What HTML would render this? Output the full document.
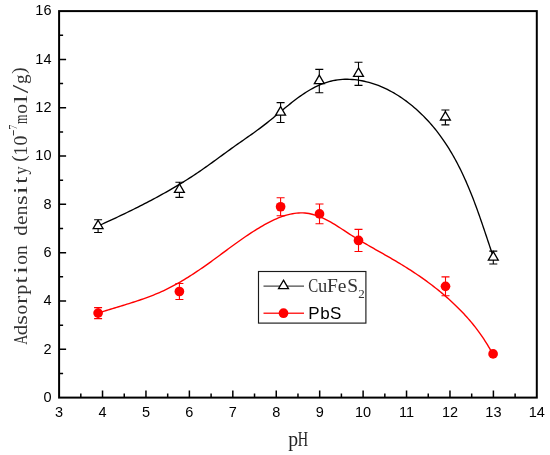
<!DOCTYPE html>
<html><head><meta charset="utf-8"><style>
html,body{margin:0;padding:0;background:#fff;}
svg{display:block;}
</style></head><body>
<svg width="550" height="455" viewBox="0 0 550 455">
<rect width="550" height="455" fill="#fff"/>
<path d="M80.81,397.6V393.6 M102.53,397.6V390.6 M124.25,397.6V393.6 M145.96,397.6V390.6 M167.68,397.6V393.6 M189.39,397.6V390.6 M211.1,397.6V393.6 M232.82,397.6V390.6 M254.53,397.6V393.6 M276.25,397.6V390.6 M297.97,397.6V393.6 M319.68,397.6V390.6 M341.4,397.6V393.6 M363.11,397.6V390.6 M384.83,397.6V393.6 M406.54,397.6V390.6 M428.25,397.6V393.6 M449.97,397.6V390.6 M471.69,397.6V393.6 M493.4,397.6V390.6 M515.12,397.6V393.6 M59.1,373.44H63.1 M59.1,349.29H66.1 M59.1,325.13H63.1 M59.1,300.98H66.1 M59.1,276.82H63.1 M59.1,252.66H66.1 M59.1,228.51H63.1 M59.1,204.35H66.1 M59.1,180.2H63.1 M59.1,156.04H66.1 M59.1,131.88H63.1 M59.1,107.73H66.1 M59.1,83.57H63.1 M59.1,59.42H66.1 M59.1,35.26H63.1" stroke="#000" stroke-width="1.5" fill="none"/>
<rect x="59.1" y="11.1" width="477.7" height="386.5" fill="none" stroke="#000" stroke-width="2"/>
<g font-family="Liberation Sans, Arial, sans-serif" font-size="14.5" fill="#000"><text x="59.1" y="417" text-anchor="middle">3</text><text x="102.53" y="417" text-anchor="middle">4</text><text x="145.96" y="417" text-anchor="middle">5</text><text x="189.39" y="417" text-anchor="middle">6</text><text x="232.82" y="417" text-anchor="middle">7</text><text x="276.25" y="417" text-anchor="middle">8</text><text x="319.68" y="417" text-anchor="middle">9</text><text x="363.11" y="417" text-anchor="middle">10</text><text x="406.54" y="417" text-anchor="middle">11</text><text x="449.97" y="417" text-anchor="middle">12</text><text x="493.4" y="417" text-anchor="middle">13</text><text x="536.83" y="417" text-anchor="middle">14</text><text x="51.5" y="401.9" text-anchor="end">0</text><text x="51.5" y="353.59" text-anchor="end">2</text><text x="51.5" y="305.28" text-anchor="end">4</text><text x="51.5" y="256.96" text-anchor="end">6</text><text x="51.5" y="208.65" text-anchor="end">8</text><text x="51.5" y="160.34" text-anchor="end">10</text><text x="51.5" y="112.03" text-anchor="end">12</text><text x="51.5" y="63.72" text-anchor="end">14</text><text x="51.5" y="15.4" text-anchor="end">16</text></g>
<path d="M98.04,226.05 L100.27,225.03 L102.51,224.01 L104.75,222.98 L106.98,221.95 L109.21,220.92 L111.44,219.88 L113.67,218.84 L115.90,217.80 L118.12,216.75 L120.35,215.69 L122.56,214.63 L124.78,213.57 L127.00,212.50 L129.21,211.42 L131.42,210.34 L133.62,209.25 L135.82,208.16 L138.02,207.06 L140.22,205.95 L142.41,204.84 L144.60,203.71 L146.78,202.59 L148.96,201.45 L151.13,200.31 L153.30,199.15 L155.47,197.99 L157.63,196.83 L159.79,195.65 L161.94,194.46 L164.08,193.27 L166.22,192.06 L168.36,190.85 L170.49,189.63 L172.61,188.39 L174.73,187.15 L176.84,185.90 L178.95,184.63 L181.05,183.36 L183.14,182.07 L185.23,180.77 L187.31,179.47 L189.38,178.15 L191.45,176.81 L193.50,175.47 L195.56,174.11 L197.60,172.74 L199.64,171.36 L201.66,169.97 L203.69,168.56 L205.70,167.15 L207.71,165.72 L209.71,164.29 L211.71,162.85 L213.71,161.41 L215.70,159.96 L217.69,158.51 L219.68,157.06 L221.66,155.60 L223.65,154.15 L225.63,152.71 L227.62,151.26 L229.61,149.83 L231.59,148.40 L233.59,146.97 L235.58,145.56 L237.57,144.15 L239.57,142.75 L241.57,141.35 L243.57,139.96 L245.57,138.56 L247.56,137.16 L249.56,135.76 L251.55,134.35 L253.53,132.93 L255.52,131.50 L257.50,130.06 L259.47,128.61 L261.44,127.14 L263.40,125.66 L265.35,124.15 L267.29,122.63 L269.23,121.08 L271.16,119.52 L273.08,117.94 L275.00,116.35 L276.92,114.75 L278.83,113.15 L280.75,111.54 L282.67,109.94 L284.59,108.34 L286.52,106.75 L288.45,105.17 L290.39,103.61 L292.34,102.06 L294.31,100.54 L296.28,99.04 L298.27,97.57 L300.28,96.13 L302.30,94.73 L304.34,93.36 L306.41,92.04 L308.49,90.76 L310.60,89.53 L312.73,88.35 L314.89,87.22 L317.07,86.16 L319.28,85.16 L321.51,84.22 L323.77,83.35 L326.04,82.56 L328.34,81.85 L330.66,81.22 L332.99,80.68 L335.35,80.22 L337.72,79.86 L340.11,79.58 L342.51,79.39 L344.92,79.29 L347.33,79.27 L349.75,79.32 L352.18,79.46 L354.60,79.67 L357.02,79.95 L359.43,80.31 L361.84,80.74 L364.23,81.23 L366.62,81.79 L368.99,82.41 L371.34,83.09 L373.67,83.83 L375.99,84.63 L378.29,85.49 L380.57,86.40 L382.83,87.37 L385.07,88.39 L387.29,89.46 L389.49,90.58 L391.67,91.75 L393.83,92.96 L395.97,94.22 L398.08,95.53 L400.17,96.88 L402.24,98.27 L404.28,99.70 L406.30,101.17 L408.29,102.67 L410.26,104.21 L412.21,105.79 L414.12,107.40 L416.01,109.04 L417.87,110.71 L419.70,112.41 L421.51,114.14 L423.29,115.89 L425.03,117.67 L426.75,119.47 L428.44,121.29 L430.09,123.13 L431.71,125.00 L433.31,126.88 L434.87,128.78 L436.41,130.69 L437.91,132.63 L439.39,134.58 L440.84,136.55 L442.26,138.54 L443.66,140.54 L445.03,142.56 L446.37,144.59 L447.69,146.64 L448.99,148.70 L450.26,150.78 L451.51,152.87 L452.73,154.98 L453.94,157.10 L455.12,159.23 L456.28,161.37 L457.42,163.53 L458.54,165.69 L459.64,167.87 L460.73,170.06 L461.79,172.26 L462.84,174.47 L463.87,176.69 L464.88,178.92 L465.88,181.15 L466.86,183.40 L467.83,185.65 L468.78,187.92 L469.72,190.19 L470.64,192.46 L471.56,194.75 L472.46,197.04 L473.35,199.33 L474.23,201.63 L475.09,203.94 L475.95,206.25 L476.80,208.56 L477.64,210.88 L478.47,213.20 L479.30,215.53 L480.12,217.86 L480.93,220.19 L481.73,222.52 L482.53,224.86 L483.33,227.19 L484.12,229.53 L484.91,231.87 L485.69,234.21 L486.48,236.54 L487.26,238.88 L488.03,241.22 L488.81,243.55 L489.59,245.88 L490.37,248.21 L491.15,250.54 L491.92,252.87 L492.71,255.19 L493.49,257.51" stroke="#000" stroke-width="1.35" fill="none" stroke-linecap="round"/>
<path d="M98.14,313.18 L100.17,312.51 L102.21,311.85 L104.26,311.19 L106.31,310.54 L108.36,309.90 L110.42,309.27 L112.48,308.63 L114.55,308.00 L116.61,307.37 L118.68,306.74 L120.75,306.11 L122.82,305.48 L124.89,304.84 L126.95,304.20 L129.02,303.56 L131.08,302.91 L133.14,302.25 L135.20,301.58 L137.26,300.91 L139.31,300.22 L141.35,299.52 L143.39,298.81 L145.42,298.09 L147.45,297.35 L149.47,296.59 L151.49,295.82 L153.49,295.03 L155.49,294.22 L157.48,293.39 L159.45,292.54 L161.42,291.67 L163.38,290.77 L165.32,289.85 L167.26,288.91 L169.18,287.95 L171.10,286.97 L173.01,285.96 L174.90,284.94 L176.79,283.90 L178.67,282.85 L180.53,281.77 L182.40,280.68 L184.25,279.58 L186.09,278.46 L187.93,277.32 L189.75,276.17 L191.57,275.01 L193.38,273.84 L195.19,272.65 L196.99,271.45 L198.78,270.25 L200.56,269.03 L202.34,267.80 L204.11,266.57 L205.87,265.33 L207.63,264.08 L209.39,262.82 L211.13,261.56 L212.88,260.30 L214.61,259.03 L216.35,257.75 L218.08,256.48 L219.81,255.20 L221.54,253.92 L223.26,252.64 L224.99,251.36 L226.72,250.08 L228.45,248.80 L230.18,247.53 L231.91,246.26 L233.65,244.99 L235.39,243.73 L237.14,242.47 L238.90,241.22 L240.66,239.97 L242.43,238.73 L244.21,237.50 L245.99,236.28 L247.79,235.07 L249.60,233.87 L251.42,232.68 L253.25,231.50 L255.10,230.34 L256.96,229.18 L258.83,228.04 L260.72,226.92 L262.62,225.81 L264.54,224.72 L266.48,223.66 L268.43,222.62 L270.39,221.61 L272.36,220.64 L274.35,219.71 L276.34,218.82 L278.35,217.97 L280.36,217.18 L282.38,216.44 L284.40,215.76 L286.44,215.14 L288.47,214.58 L290.51,214.10 L292.56,213.69 L294.61,213.36 L296.65,213.11 L298.70,212.95 L300.75,212.87 L302.80,212.89 L304.84,213.01 L306.89,213.22 L308.92,213.54 L310.96,213.96 L312.99,214.47 L315.01,215.06 L317.02,215.74 L319.03,216.48 L321.02,217.30 L323.01,218.18 L324.98,219.12 L326.94,220.11 L328.89,221.14 L330.83,222.22 L332.74,223.33 L334.65,224.47 L336.54,225.63 L338.41,226.81 L340.28,228.01 L342.14,229.22 L343.99,230.43 L345.84,231.64 L347.69,232.84 L349.54,234.04 L351.38,235.22 L353.24,236.38 L355.09,237.53 L356.94,238.67 L358.80,239.79 L360.66,240.91 L362.52,242.01 L364.38,243.10 L366.24,244.19 L368.10,245.26 L369.96,246.33 L371.83,247.40 L373.69,248.46 L375.55,249.52 L377.41,250.57 L379.27,251.62 L381.13,252.68 L382.99,253.73 L384.84,254.78 L386.70,255.84 L388.55,256.90 L390.40,257.96 L392.25,259.03 L394.10,260.11 L395.94,261.19 L397.78,262.28 L399.61,263.38 L401.45,264.49 L403.28,265.61 L405.10,266.74 L406.92,267.89 L408.74,269.04 L410.55,270.20 L412.36,271.38 L414.16,272.56 L415.95,273.76 L417.74,274.97 L419.52,276.19 L421.29,277.42 L423.06,278.66 L424.82,279.92 L426.57,281.18 L428.31,282.46 L430.04,283.75 L431.77,285.06 L433.48,286.37 L435.19,287.70 L436.89,289.04 L438.57,290.39 L440.25,291.76 L441.91,293.14 L443.56,294.53 L445.20,295.93 L446.83,297.35 L448.45,298.78 L450.05,300.22 L451.64,301.68 L453.22,303.15 L454.79,304.64 L456.34,306.14 L457.87,307.65 L459.39,309.18 L460.90,310.72 L462.39,312.27 L463.87,313.84 L465.33,315.43 L466.77,317.03 L468.20,318.64 L469.61,320.27 L471.00,321.91 L472.38,323.57 L473.74,325.25 L475.08,326.93 L476.40,328.64 L477.70,330.36 L478.98,332.09 L480.25,333.85 L481.49,335.61 L482.72,337.40 L483.92,339.20 L485.10,341.01 L486.26,342.84 L487.40,344.69 L488.52,346.55 L489.62,348.44 L490.69,350.33 L491.74,352.25 L492.77,354.18" stroke="#f00" stroke-width="1.4" fill="none" stroke-linecap="round"/>
<path d="M98.1,219.8V232.5M94.1,219.8H102.1M94.1,232.5H102.1" stroke="#000" stroke-width="1.1" fill="none"/>
<path d="M98.1,220.25L103.05,228.7L93.15,228.7Z" fill="#fff" stroke="#000" stroke-width="1.3" stroke-linejoin="miter"/>
<path d="M179.4,182.3V197.4M175.4,182.3H183.4M175.4,197.4H183.4" stroke="#000" stroke-width="1.1" fill="none"/>
<path d="M179.4,183.95L184.35,192.4L174.45,192.4Z" fill="#fff" stroke="#000" stroke-width="1.3" stroke-linejoin="miter"/>
<path d="M280.6,102.6V122.5M276.6,102.6H284.6M276.6,122.5H284.6" stroke="#000" stroke-width="1.1" fill="none"/>
<path d="M280.6,106.65L285.55,115.1L275.65,115.1Z" fill="#fff" stroke="#000" stroke-width="1.3" stroke-linejoin="miter"/>
<path d="M319.3,69.4V92.7M315.3,69.4H323.3M315.3,92.7H323.3" stroke="#000" stroke-width="1.1" fill="none"/>
<path d="M319.3,75.15L324.25,83.6L314.35,83.6Z" fill="#fff" stroke="#000" stroke-width="1.3" stroke-linejoin="miter"/>
<path d="M358.5,62.3V85.4M354.5,62.3H362.5M354.5,85.4H362.5" stroke="#000" stroke-width="1.1" fill="none"/>
<path d="M358.5,67.95L363.45,76.4L353.55,76.4Z" fill="#fff" stroke="#000" stroke-width="1.3" stroke-linejoin="miter"/>
<path d="M445.4,110V124.9M441.4,110H449.4M441.4,124.9H449.4" stroke="#000" stroke-width="1.1" fill="none"/>
<path d="M445.4,111.55L450.35,120L440.45,120Z" fill="#fff" stroke="#000" stroke-width="1.3" stroke-linejoin="miter"/>
<path d="M493.3,251.1V264M489.3,251.1H497.3M489.3,264H497.3" stroke="#000" stroke-width="1.1" fill="none"/>
<path d="M493.3,251.65L498.25,260.1L488.35,260.1Z" fill="#fff" stroke="#000" stroke-width="1.3" stroke-linejoin="miter"/>
<path d="M98.1,307.6V318.6M94.1,307.6H102.1M94.1,318.6H102.1" stroke="#f00" stroke-width="1.1" fill="none"/>
<circle cx="98.1" cy="313.1" r="4.85" fill="#f00"/>
<path d="M179.4,283.5V299.5M175.4,283.5H183.4M175.4,299.5H183.4" stroke="#f00" stroke-width="1.1" fill="none"/>
<circle cx="179.4" cy="291.5" r="4.85" fill="#f00"/>
<path d="M280.6,197.7V215.8M276.6,197.7H284.6M276.6,215.8H284.6" stroke="#f00" stroke-width="1.1" fill="none"/>
<circle cx="280.6" cy="206.75" r="4.85" fill="#f00"/>
<path d="M319.5,204V223.8M315.5,204H323.5M315.5,223.8H323.5" stroke="#f00" stroke-width="1.1" fill="none"/>
<circle cx="319.5" cy="213.9" r="4.85" fill="#f00"/>
<path d="M358.5,229.4V251.5M354.5,229.4H362.5M354.5,251.5H362.5" stroke="#f00" stroke-width="1.1" fill="none"/>
<circle cx="358.5" cy="240.45" r="4.85" fill="#f00"/>
<path d="M445.5,276.9V295.8M441.5,276.9H449.5M441.5,295.8H449.5" stroke="#f00" stroke-width="1.1" fill="none"/>
<circle cx="445.5" cy="286.35" r="4.85" fill="#f00"/>

<circle cx="493.1" cy="353.9" r="4.85" fill="#f00"/>
<rect x="258.5" y="271.5" width="107.4" height="51.6" fill="#fff" stroke="#1a1a1a" stroke-width="1.15"/>
<path d="M263.5,286.1H304" stroke="#4a4a4a" stroke-width="1.2"/>
<path d="M283.5,280.2L288.45,288.65L278.55,288.65Z" fill="#fff" stroke="#000" stroke-width="1.3" stroke-linejoin="miter"/>
<path d="M263.5,313.2H304" stroke="#ff2a2a" stroke-width="1.4"/>
<circle cx="283.5" cy="313.2" r="4.85" fill="#f00"/>
<g font-family="Liberation Serif, serif" fill="#333" transform="translate(26.8,0) rotate(-90)"><text transform="translate(-339.6,0) scale(0.732,1)" x="-6.88" y="0" font-size="19">A</text><text transform="translate(-329.8,0) scale(1.095,1)" x="-4.98" y="0" font-size="19">d</text><text transform="translate(-319.8,0) scale(1.316,1)" x="-3.74" y="0" font-size="19">s</text><text transform="translate(-309.8,0) scale(1.018,1)" x="-4.75" y="0" font-size="19">o</text><text transform="translate(-299.8,0) scale(1.315,1)" x="-3.27" y="0" font-size="19">r</text><text transform="translate(-289.9,0) scale(1.065,1)" x="-4.53" y="0" font-size="19">p</text><text transform="translate(-280,0) scale(1.325,1)" x="-2.68" y="0" font-size="19">t</text><text transform="translate(-270,0) scale(1.505,1)" x="-2.66" y="0" font-size="19">i</text><text transform="translate(-260,0) scale(1.018,1)" x="-4.75" y="0" font-size="19">o</text><text transform="translate(-250,0) scale(1.025,1)" x="-4.82" y="0" font-size="19">n</text><text transform="translate(-230.2,0) scale(1.095,1)" x="-4.98" y="0" font-size="19">d</text><text transform="translate(-220.2,0) scale(1.138,1)" x="-4.26" y="0" font-size="19">e</text><text transform="translate(-210.2,0) scale(1.025,1)" x="-4.82" y="0" font-size="19">n</text><text transform="translate(-200.2,0) scale(1.316,1)" x="-3.74" y="0" font-size="19">s</text><text transform="translate(-190.2,0) scale(1.505,1)" x="-2.66" y="0" font-size="19">i</text><text transform="translate(-180.2,0) scale(1.325,1)" x="-2.68" y="0" font-size="19">t</text><text transform="translate(-170.4,0) scale(0.848,1)" x="-4.83" y="0" font-size="19">y</text><text transform="translate(-150.6,0) scale(1.046,1)" x="-5.01" y="0" font-size="19">1</text><text transform="translate(-140.5,0) scale(1.043,1)" x="-4.75" y="0" font-size="19">0</text><text transform="translate(-119.2,0) scale(0.639,1)" x="-7.44" y="0" font-size="19">m</text><text transform="translate(-108.9,0) scale(1.018,1)" x="-4.75" y="0" font-size="19">o</text><text transform="translate(-99.2,0) scale(1.549,1)" x="-2.64" y="0" font-size="19">l</text><text transform="translate(-79,0) scale(1.009,1)" x="-4.98" y="0" font-size="19">g</text><g transform="translate(0,-1.8)"><text x="-161.87" y="0" font-size="19">(</text><text x="-73.65" y="0" font-size="19">)</text></g><g transform="translate(-89,1.5) scale(1.6,1.22)"><text x="-2.64" y="0" font-size="19">/</text></g><g transform="translate(0,-9.4)"><text transform="translate(-132.9,0) scale(1.700,1)" x="-2" y="0" font-size="12">-</text><text transform="translate(-126.9,0) scale(0.864,1)" x="-3.22" y="0" font-size="12">7</text></g></g>
<g font-family="Liberation Serif, serif" fill="#222" transform="translate(0,445.6)"><text transform="translate(293,0) scale(0.965,1)" x="-4.89" y="0" font-size="20.5">p</text><text transform="translate(303,0) scale(0.698,1)" x="-7.4" y="0" font-size="20.5">H</text></g>
<g font-family="Liberation Serif, serif" fill="#333" transform="translate(0,291.7)"><text transform="translate(313.2,0) scale(0.764,1)" x="-6.37" y="0" font-size="19.5">C</text><text transform="translate(322.7,0) scale(0.950,1)" x="-4.84" y="0" font-size="19.5">u</text><text x="326.95" y="0" font-size="19.5">F</text><text x="337.83" y="0" font-size="19.5">e</text><text x="347.23" y="0" font-size="19.5">S</text><g transform="translate(0,6.6)"><text transform="translate(361.3,0) scale(1.040,1)" x="-3.05" y="0" font-size="12.5">2</text></g></g>
<text x="308.3" y="318.5" font-family="Liberation Sans, Arial, sans-serif" font-size="17" letter-spacing="0.5" fill="#000">PbS</text>
</svg>
</body></html>
